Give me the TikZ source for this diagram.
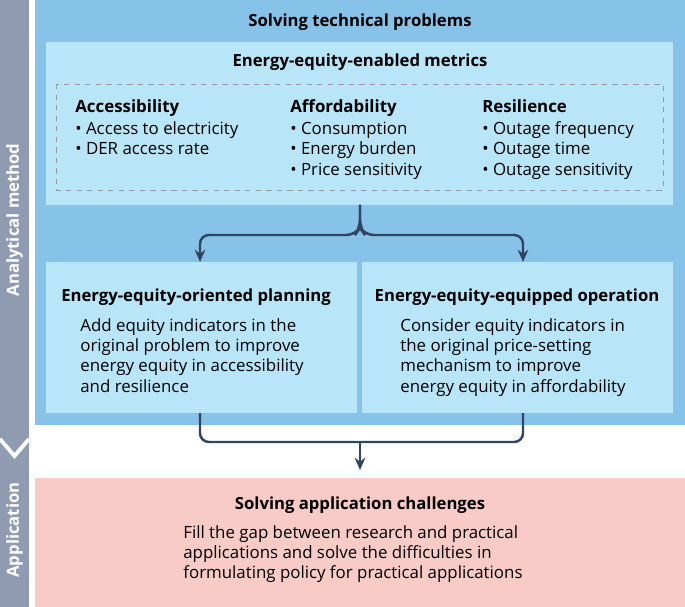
\documentclass[tikz,border=0pt]{standalone}
\usepackage{fontspec}
\setmainfont{Open Sans}
\usetikzlibrary{positioning,arrows.meta}
\definecolor{regionblue}{HTML}{87C3E8}
\definecolor{boxblue}{HTML}{B9E5F9}
\definecolor{apppink}{HTML}{F8CBC6}
\definecolor{sidegrey}{HTML}{8F9BB1}
\definecolor{linknavy}{HTML}{2F4562}
\begin{document}
\begin{tikzpicture}[
    x=0.02cm, y=-0.02cm,
    font=\fontsize{9.6}{11.6}\selectfont,
    panel/.style={fill=boxblue, draw=none},
    heading/.style={font=\fontsize{9.5}{12}\selectfont\bfseries, inner sep=0pt},
    body/.style={align=left, inner sep=0pt, anchor=north west},
    link/.style={draw=linknavy, line width=1.4pt, rounded corners=5pt},
    arrow/.style={link, -{Stealth[length=7pt,width=6pt]}}
]
    \useasboundingbox (0,0) rectangle (685,607);
    % Side bar
    \fill[sidegrey] (0,0) rectangle (29,607);
    \draw[white, line width=2.2pt] (0,439) -- (14.5,456) -- (29,439);
    \node[rotate=90, text=white, heading] (method) at (14.5,220) {Analytical method};
    \node[rotate=90, text=white, heading] (application) at (14.5,530) {Application};

    % Regions
    \fill[regionblue] (35,0) rectangle (685,425);
    \fill[apppink] (35,478) rectangle (685,607);
    \node[heading] (technical) at (360,22) {Solving technical problems};

    % Metrics panel
    \fill[panel] (46,42) rectangle (673,205);
    \node[heading] (metrics) at (360,62) {Energy-equity-enabled metrics};
    \draw[dashed, draw=gray!80] (56,84) rectangle (663,190);
    \node[body] (access) at (75,99) {\textbf{Accessibility}\\[1pt] • Access to electricity\\ • DER access rate};
    \node[body] (afford) at (290,99) {\textbf{Affordability}\\[1pt] • Consumption\\ • Energy burden\\ • Price sensitivity};
    \node[body] (resil) at (482,99) {\textbf{Resilience}\\[1pt] • Outage frequency\\ • Outage time\\ • Outage sensitivity};

    % Planning and operation panels
    \fill[panel] (46,262) rectangle (357,413);
    \fill[panel] (362,262) rectangle (673,413);
    \node[heading] (planning) at (196,297) {Energy-equity-oriented planning};
    \node[body] (plantext) at (80,318) {Add equity indicators in the\\ original problem to improve\\ energy equity in accessibility\\ and resilience};
    \node[heading] (operation) at (517,297) {Energy-equity-equipped operation};
    \node[body] (optext) at (400,318) {Consider equity indicators in\\ the original price-setting\\ mechanism to improve\\ energy equity in affordability};

    % Application panel
    \node[heading] (challenges) at (360,505) {Solving application challenges};
    \node[body] (apptext) at (183,525) {Fill the gap between research and practical\\ applications and solve the difficulties in\\ formulating policy for practical applications};

    % Connectors
    \coordinate (split) at (360,205);
    \coordinate (toplan) at (200,262);
    \coordinate (toop) at (523,262);
    \draw[arrow] (split) -- (360,228) -- (355,235) -- (200,235) -- (toplan);
    \draw[arrow] (split) -- (360,228) -- (365,235) -- (523,235) -- (toop);
    \coordinate (fromplan) at (200,413);
    \coordinate (fromop) at (523,413);
    \coordinate (toapp) at (360,470);
    \draw[link] (fromplan) -- (200,442) -- (523,442) -- (fromop);
    \draw[arrow, rounded corners=0pt] (360,442) -- (toapp);
\end{tikzpicture}
\end{document}
